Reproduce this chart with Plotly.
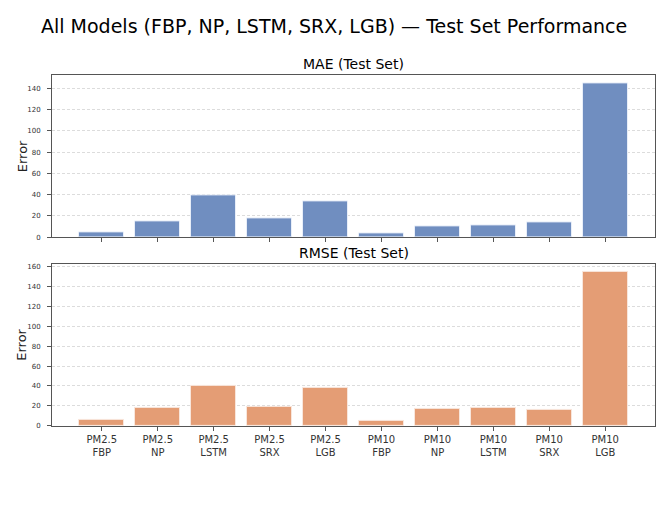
import plotly.graph_objects as go

categories = ["PM2.5<br>FBP", "PM2.5<br>NP", "PM2.5<br>LSTM", "PM2.5<br>SRX", "PM2.5<br>LGB",
              "PM10<br>FBP", "PM10<br>NP", "PM10<br>LSTM", "PM10<br>SRX", "PM10<br>LGB"]
mae = [4.4, 14.7, 39.1, 17.2, 33.4, 3.8, 10.0, 10.6, 13.4, 145.0]
rmse = [5.3, 17.7, 40.4, 18.4, 38.1, 5.0, 16.4, 18.0, 15.4, 155.3]
mae_ticks = [0, 20, 40, 60, 80, 100, 120, 140]
rmse_ticks = [0, 20, 40, 60, 80, 100, 120, 140, 160]

W, H = 668, 508
xd = [52 / W, 655 / W]
yd_top = [1 - 239 / H, 1 - 76 / H]
yd_bot = [1 - 429 / H, 1 - 266 / H]

xpos = list(range(len(categories)))

fig = go.Figure()
fig.add_trace(go.Bar(x=xpos, y=mae, width=0.8, marker=dict(color="#708ec0", line=dict(color="#e8eef8", width=1)),
                     xaxis="x", yaxis="y", showlegend=False))
fig.add_trace(go.Bar(x=xpos, y=rmse, width=0.8, marker=dict(color="#e49d75", line=dict(color="#f8e6dc", width=1)),
                     xaxis="x2", yaxis="y2", showlegend=False))

font = "DejaVu Sans"
axis_common = dict(showline=True, linecolor="#555555", linewidth=1, mirror=True,
                   ticks="outside", ticklen=4, tickcolor="#555555", zeroline=False)
grid = dict(showgrid=True, gridcolor="#dcdcdc", griddash="3px,2px", gridwidth=0.7)

fig.update_layout(
    width=W, height=H,
    margin=dict(l=0, r=0, t=0, b=0),
    paper_bgcolor="white", plot_bgcolor="white",
    font=dict(family=font, color="#222222"),
    bargap=0,
    xaxis=dict(domain=xd, anchor="y", range=[-0.89, 9.89], tickvals=xpos, ticktext=[""] * 10,
               showgrid=False, **axis_common),
    yaxis=dict(domain=yd_top, anchor="x", range=[0, 152.25], tickvals=mae_ticks,
               tickfont=dict(size=7, color="#333333"), ticklabelstandoff=5, **grid, **axis_common),
    xaxis2=dict(domain=xd, anchor="y2", range=[-0.89, 9.89], tickvals=xpos, ticktext=categories,
                tickfont=dict(size=10, color="#333333"), showgrid=False, **axis_common),
    yaxis2=dict(domain=yd_bot, anchor="x2", range=[0, 163.1], tickvals=rmse_ticks,
                tickfont=dict(size=7, color="#333333"), ticklabelstandoff=5, **grid, **axis_common),
    annotations=[
        dict(text="All Models (FBP, NP, LSTM, SRX, LGB) — Test Set Performance", x=0.5, y=1 - 26 / H,
             xref="paper", yref="paper", showarrow=False, font=dict(size=19, color="black"),
             xanchor="center", yanchor="middle"),
        dict(text="MAE (Test Set)", x=(xd[0] + xd[1]) / 2, y=yd_top[1], xref="paper", yref="paper",
             showarrow=False, font=dict(size=14, color="black"), xanchor="center", yanchor="bottom", yshift=1),
        dict(text="RMSE (Test Set)", x=(xd[0] + xd[1]) / 2, y=yd_bot[1], xref="paper", yref="paper",
             showarrow=False, font=dict(size=14, color="black"), xanchor="center", yanchor="bottom", yshift=1),
        dict(text="Error", x=22 / W, y=(yd_top[0] + yd_top[1]) / 2, xref="paper", yref="paper",
             showarrow=False, textangle=-90, font=dict(size=13, color="#222222"),
             xanchor="center", yanchor="middle"),
        dict(text="Error", x=22 / W, y=(yd_bot[0] + yd_bot[1]) / 2, xref="paper", yref="paper",
             showarrow=False, textangle=-90, font=dict(size=13, color="#222222"),
             xanchor="center", yanchor="middle"),
    ],
)

fig.write_html("out.html", config={"displayModeBar": False},
               post_script="document.body.style.margin='0';")
